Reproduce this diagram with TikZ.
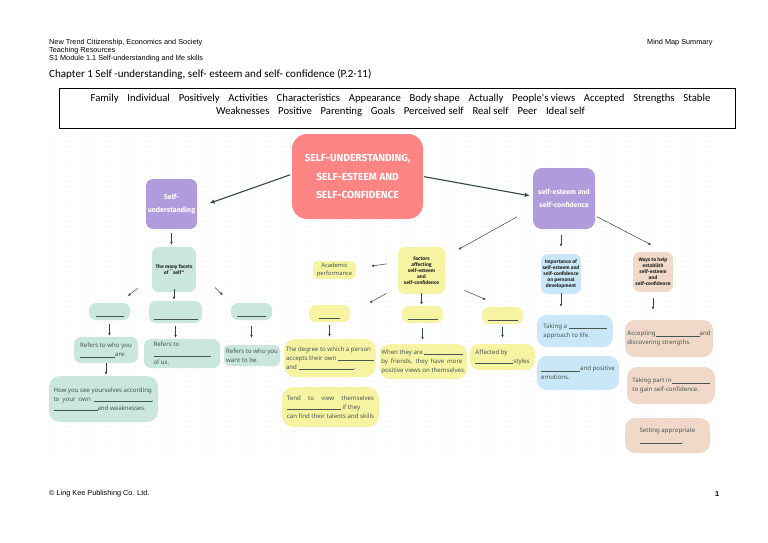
\documentclass[tikz,border=0pt]{standalone}
\usepackage{fontspec}
\setmainfont{Noto Sans}
\newfontfamily\headfont{Liberation Sans}
\newfontfamily\wordfont{Carlito}
\newfontfamily\handfont{Fira Sans}
\usepackage{xcolor}
\usetikzlibrary{arrows.meta,positioning,calc}

\definecolor{rootred}{HTML}{FF8585}
\definecolor{bluepurple}{HTML}{B09CDD}
\definecolor{mintcard}{HTML}{C9E6DF}
\definecolor{lemoncard}{HTML}{F6F3A3}
\definecolor{skycard}{HTML}{C9E7F6}
\definecolor{sandcard}{HTML}{F0D9C8}
\definecolor{linkgreen}{HTML}{34483F}
\definecolor{bodygrey}{HTML}{47544F}

\newcommand{\gapline}[1]{\rule[-0.3pt]{#1pt}{0.35pt}}
\newcommand{\slotline}[2]{\smash{\rule[-#2pt]{#1pt}{0.35pt}}}
\newcommand{\wgap}{\hspace{8.8pt}}

\tikzset{
    card/.style 2 args={rounded corners=7pt, inner sep=0pt, minimum width=#1pt, minimum height=#2pt, font=\fontsize{6.1}{9}\selectfont, text=bodygrey, align=left},
    mint/.style={fill=mintcard},
    lemon/.style={fill=lemoncard},
    sky/.style={fill=skycard},
    sand/.style={fill=sandcard},
    hand/.style={font=\handfont\bfseries\fontsize{5}{6}\selectfont, text=black!85, align=center},
    link/.style={draw=linkgreen, -{Latex[length=3pt,width=2.6pt]}, line width=0.5pt},
    mainlink/.style={draw=linkgreen, -{Latex[length=5pt,width=4.4pt]}, line width=1.1pt},
    header/.style={anchor=west, inner sep=0pt, font=\headfont\fontsize{7.3}{8}\selectfont}
}

\begin{document}
\begin{tikzpicture}[x=1pt,y=-1pt]
    \useasboundingbox (0,0) rectangle (768,543);
    \fill[white] (0,0) rectangle (768,543);

    % Page header and footer
    \node[header] (course) at (49,43) {New Trend Citizenship, Economics and Society};
    \node[header] (resources) at (49,51) {Teaching Resources};
    \node[header] (module) at (49,59) {S1 Module 1.1 Self-understanding and life skills};
    \node[header] (kind) at (647,43) {Mind Map Summary};
    \node[header, font=\wordfont\fontsize{11.05}{12}\selectfont] (chapter) at (49,74) {Chapter 1 Self -understanding, self- esteem and self- confidence (P.2-11)};
    \node[header] (press) at (49,494) {© Ling Kee Publishing Co. Ltd.};
    \node[header, font=\headfont\bfseries\fontsize{7.3}{8}\selectfont] (pageno) at (715,494) {1};

    % Word bank
    \node[draw=black, line width=0.9pt, minimum width=676pt, minimum height=40pt, inner sep=0pt] (bank) at (397,108) {};
    \node[inner sep=0pt, align=center, font=\wordfont\fontsize{10.7}{13}\selectfont] (words) at (400.5,105) {Family\wgap Individual\wgap Positively\wgap Activities\wgap Characteristics\wgap Appearance\wgap Body shape\wgap Actually\wgap People's views\wgap Accepted\wgap Strengths\wgap Stable\\ Weaknesses\wgap Positive\wgap Parenting\wgap Goals\wgap Perceived self\wgap Real self\wgap Peer\wgap Ideal self};

    % Faint dotted paper
    \foreach \y in {136,141,...,452} {
        \draw[black!5, line width=0.3pt, dash pattern=on 0.4pt off 4.6pt] (50,\y) -- (716,\y);
    }

    % Centre and main branches
    \node[card={131}{85}, rounded corners=15pt, fill=rootred, text=white, align=center, font=\handfont\bfseries\fontsize{10.2}{18.5}\selectfont] (root) at (357.5,176.5) {SELF-UNDERSTANDING,\\SELF-ESTEEM AND\\SELF-CONFIDENCE};
    \node[card={51}{50}, fill=bluepurple, text=white, align=center, font=\handfont\bfseries\fontsize{7.1}{13}\selectfont] (understanding) at (171.5,204) {Self-\\understanding};
    \node[card={62}{61}, rounded corners=9pt, fill=bluepurple, text=white, align=center, font=\handfont\bfseries\fontsize{7}{12.5}\selectfont] (esteem) at (564,198.5) {self-esteem and\\self-confidence};

    % Self-understanding side
    \node[card={44}{45}, mint, hand] (facets) at (174,269.5) {The many facets\\of ``self''};
    \node[card={41}{17}, mint] (blanka) at (109.5,311.5) {\slotline{28}{4.5}};
    \node[card={53}{22}, mint] (blankb) at (175.5,312) {\slotline{44}{7}};
    \node[card={41}{17}, mint] (blankc) at (251.5,311.5) {\slotline{29}{5}};
    \node[card={64}{26}, mint] (who) at (106,350) {Refers to who you\\\gapline{35}are.};
    \node[card={76}{29}, mint] (us) at (182,353.5) {Refers to\\\gapline{57}\\ of us.};
    \node[card={56}{21}, mint, rounded corners=5pt] (want) at (252,355.5) {Refers to who you\\want to be.};
    \node[card={109}{46}, mint, rounded corners=11pt] (see) at (103.5,399) {How you see yourselves according\\\makebox[100pt][s]{to your own \gapline{58},}\\\gapline{44}and weaknesses.};

    % Self-esteem side: factors
    \node[card={47}{47}, lemon, hand] (factors) at (421.5,270.5) {Factors\\affecting\\self-esteem\\and\\self-confidence};
    \node[card={43}{18}, lemon, rounded corners=5pt, font=\fontsize{5.8}{7.5}\selectfont, align=center] (academic) at (334.5,270) {Academic\\performance};
    \node[card={41}{17}, lemon] (blankd) at (329.5,313.5) {\slotline{21}{4.5}};
    \node[card={41}{17}, lemon] (blanke) at (422.5,314.5) {\slotline{30}{4.5}};
    \node[card={41}{17}, lemon] (blankf) at (502.5,315.5) {\slotline{30}{4.5}};
    \node[card={92}{38}, lemon, rounded corners=11pt] (degree) at (330,358) {The degree to which a person\\accepts their own \gapline{36}\\and \gapline{55}.};
    \node[card={97}{40}, lemon, rounded corners=11pt] (tend) at (330.5,407) {\makebox[87pt][s]{Tend to view themselves}\\\gapline{54} if they\\can find their talents and skills};
    \node[card={87}{35}, lemon, rounded corners=10pt] (when) at (423.5,361.5) {When they are \gapline{39}\\\makebox[81pt][s]{by friends, they have more}\\positive views on themselves.};
    \node[card={65}{26}, lemon, rounded corners=9pt] (affected) at (502.5,357) {Affected by\\\gapline{38}styles};

    % Self-esteem side: importance
    \node[card={40}{40}, sky, hand] (importance) at (561,274) {Importance of\\self-esteem and\\self-confidence\\on personal\\development};
    \node[card={76}{32}, sky, rounded corners=10pt] (approach) at (575,331) {Taking a \gapline{38}\\approach to life.};
    \node[card={82}{34}, sky, rounded corners=10pt] (emotions) at (578,373) {\gapline{39}and positive\\emotions.};

    % Self-esteem side: ways
    \node[card={40}{40}, sand, hand] (ways) at (653,272) {Ways to help\\establish\\self-esteem\\and\\self-confidence};
    \node[card={88}{37}, sand, rounded corners=10pt] (accepting) at (669,338.5) {Accepting\gapline{44}and\\discovering strengths.};
    \node[card={88}{37}, sand, rounded corners=10pt] (taking) at (671,385.5) {Taking part in\gapline{38}\\to gain self-confidence.};
    \node[card={85}{35}, sand, rounded corners=10pt] (setting) at (667.5,435.5) {Setting appropriate\hspace{6pt}\\[2pt]\gapline{42}.};

    % Main links
    \draw[mainlink, shorten <=2pt, shorten >=13pt] (root.178) -- (understanding.-8);
    \draw[mainlink, shorten <=1pt, shorten >=3pt] (root.0) -- (esteem.176);

    % Links straight down
    \foreach \a/\b/\s/\e in {understanding/facets/4/2, facets/blankb/-3/1, blanka/who/4/1, blankb/us/3/1, blankc/want/6/7, who/see/0/1, blankd/degree/3/2, factors/blanke/-1/1, blanke/when/5/4, blankf/affected/3/6, importance/approach/-1/8, ways/accepting/6/10} {
        \draw[link, shorten <=\s pt, shorten >=\e pt] (\a.south) -- (\a.south |- \b.north);
    }
    \draw[link, shorten <=6pt, shorten >=7pt] (esteem.south -| importance.north) -- (importance.north);

    % Slanted links
    \draw[link, shorten <=18pt, shorten >=11pt] (facets.199) -- (blanka.42);
    \draw[link, shorten <=26pt, shorten >=11pt] (facets.east) -- (blankc.north west);
    \draw[link, shorten <=18pt, shorten >=15pt] (esteem.197) -- (factors.30);
    \draw[link, shorten <=2pt, shorten >=15pt] (esteem.-29) -- (ways.60);
    \draw[link, shorten <=11pt, shorten >=15pt] (factors.161) -- (academic.5);
    \draw[link, shorten <=13pt, shorten >=22pt] (factors.215) -- (blankd.east);
    \draw[link, shorten <=21pt, shorten >=18pt] (factors.-26) -- (blankf.north);
\end{tikzpicture}
\end{document}
